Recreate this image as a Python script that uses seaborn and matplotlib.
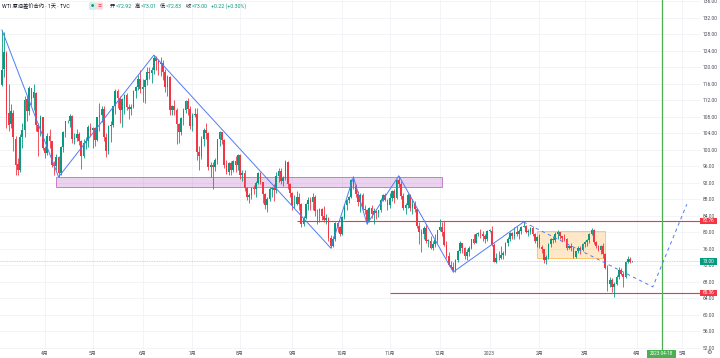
import numpy as np
import pandas as pd
import matplotlib
matplotlib.use("Agg")
import matplotlib.pyplot as plt
import matplotlib.transforms as mtransforms
from matplotlib.patches import Rectangle
import seaborn as sns

# WTI CFD daily candles, one per weekday from 2022-03-07 to 2023-03-30
# (one line per month)
opens = [
    115.7, 119.6, 123.5, 108.9, 106.3, 109.0, 102.5, 96.6, 95.1, 103.0, 104.7, 112.2, 109.4, 114.9, 112.4, 113.7, 106.0, 104.3, 107.8,
    100.3, 99.3, 103.3, 102.0, 96.2, 96.0, 98.3, 94.3, 100.6, 104.3, 106.9, 106.9, 108.2, 102.6, 102.8, 103.8, 102.1, 98.5, 101.7, 102.0, 105.4,
    104.7, 105.2, 102.4, 107.8, 108.3, 109.8, 103.1, 99.8, 105.7, 106.1, 110.5, 114.2, 112.4, 109.6, 112.2, 113.2, 110.3, 109.8, 110.3, 114.1, 115.1, 117.0,
    114.7, 115.3, 116.9, 118.9, 118.5, 119.4, 122.1, 121.5, 120.7, 120.9, 118.9, 115.3, 117.6, 109.6, 110.6, 109.5, 106.2, 104.3, 107.6, 109.6, 111.8, 109.8,
    105.8, 108.4, 108.6, 99.5, 98.5, 102.7, 104.8, 104.1, 95.8, 96.3, 95.8, 97.6, 102.6, 104.2, 102.3, 96.4, 94.7, 96.7, 95.0, 97.3, 96.4,
    98.6, 93.9, 94.4, 90.7, 88.5, 89.0, 90.8, 90.5, 91.9, 94.3, 92.1, 89.4, 86.5, 88.1, 90.5, 90.8, 90.2, 93.7, 94.9, 92.5, 93.1, 97.0, 91.6,
    89.6, 86.6, 86.9, 88.5, 86.9, 81.9, 83.5, 86.8, 87.8, 87.3, 88.5, 85.1, 85.1, 85.7, 83.9, 82.9, 83.5, 78.7, 76.7, 78.5, 82.2, 81.2,
    79.5, 83.6, 86.5, 87.8, 88.5, 92.6, 91.1, 89.4, 87.3, 89.1, 85.6, 85.5, 82.8, 86.0, 84.5, 85.1, 84.6, 85.3, 87.9, 89.1, 87.9,
    86.5, 88.4, 90.0, 88.2, 92.6, 91.8, 88.9, 85.8, 86.5, 89.0, 85.9, 86.9, 85.6, 81.6, 80.1, 79.7, 81.0, 77.9, 77.9, 76.3, 77.2, 78.2,
    80.6, 81.2, 80.0, 76.9, 74.3, 72.0, 71.5, 71.0, 73.2, 75.4, 77.3, 76.1, 74.3, 75.2, 76.2, 78.3, 77.5, 79.6, 79.8, 79.5, 79.0, 78.4,
    80.3, 80.4, 76.9, 72.8, 73.7, 73.8, 74.6, 75.1, 77.4, 78.4, 79.9, 79.2, 80.2, 79.5, 80.3, 81.3, 81.6, 80.1, 80.2, 81.0, 79.7, 77.9,
    78.9, 76.4, 75.9, 73.4, 74.1, 77.1, 78.5, 78.1, 79.7, 80.1, 79.1, 78.6, 78.5, 76.3, 76.6, 76.2, 74.0, 75.4, 76.3, 75.7,
    77.1, 77.7, 78.2, 79.7, 80.5, 77.6, 76.7, 75.7, 76.7, 74.8, 71.3, 67.6, 68.4, 66.7, 67.6, 69.3, 70.9, 70.0, 69.3, 72.8, 73.6, 72.92,
]
highs = [
    129.0, 128.5, 123.9, 116.0, 111.0, 109.7, 103.3, 98.0, 103.9, 106.4, 112.9, 113.0, 115.4, 115.0, 115.8, 114.0, 106.5, 108.4, 108.0,
    101.0, 104.1, 105.0, 102.2, 97.3, 98.9, 98.4, 101.0, 104.5, 107.0, 107.2, 108.6, 108.4, 104.0, 105.0, 104.3, 102.3, 102.5, 103.0, 106.0, 106.5,
    105.6, 105.5, 108.0, 111.4, 110.6, 110.5, 104.0, 106.0, 107.0, 110.7, 114.6, 114.8, 113.0, 112.5, 113.6, 113.8, 111.0, 111.0, 114.5, 115.4, 118.0, 119.4,
    117.1, 117.0, 120.0, 120.0, 120.0, 122.9, 122.6, 122.0, 122.5, 121.8, 119.5, 118.2, 117.9, 110.9, 112.0, 110.0, 106.5, 107.8, 110.0, 112.0, 112.5, 110.5,
    109.0, 110.0, 110.0, 101.0, 103.2, 105.3, 106.5, 104.2, 97.0, 97.0, 98.0, 102.7, 104.5, 104.3, 102.5, 97.5, 97.0, 97.3, 97.6, 98.5, 99.0,
    99.0, 95.0, 95.0, 91.0, 89.5, 91.0, 91.5, 92.5, 94.6, 94.5, 92.3, 89.6, 88.5, 90.9, 91.0, 91.8, 94.5, 95.5, 95.5, 93.7, 97.6, 97.2, 92.0,
    89.7, 89.0, 90.0, 89.5, 87.0, 84.0, 87.0, 88.5, 88.5, 89.5, 89.0, 85.7, 86.0, 86.0, 86.3, 84.5, 83.6, 79.3, 79.0, 82.5, 82.5, 81.5,
    84.0, 86.8, 88.0, 88.9, 93.0, 93.6, 91.7, 90.0, 89.5, 89.6, 86.5, 85.6, 86.1, 86.5, 85.9, 85.5, 85.5, 88.4, 89.4, 89.5, 88.0,
    89.5, 90.2, 90.5, 93.0, 93.7, 92.5, 89.5, 87.0, 89.5, 89.3, 88.0, 87.5, 85.7, 82.5, 80.8, 81.5, 82.0, 78.5, 79.0, 78.0, 79.5, 80.6,
    83.3, 82.5, 82.7, 77.8, 75.2, 73.0, 72.8, 73.5, 75.7, 77.8, 77.5, 76.5, 76.0, 76.8, 78.5, 79.7, 79.9, 80.0, 80.8, 80.3, 79.5, 80.6,
    80.7, 81.5, 77.4, 74.9, 75.5, 76.7, 75.4, 77.6, 78.8, 80.0, 80.0, 81.2, 81.5, 80.9, 81.6, 82.6, 81.8, 80.9, 81.2, 81.5, 79.9, 79.0,
    79.5, 77.0, 76.0, 74.5, 77.3, 78.6, 79.2, 80.0, 80.6, 80.2, 79.2, 79.5, 78.6, 77.0, 77.3, 76.5, 75.5, 76.7, 76.6, 77.3,
    78.0, 78.5, 79.8, 81.0, 80.9, 78.0, 77.0, 77.0, 77.3, 75.1, 72.0, 69.2, 69.0, 68.0, 69.7, 71.7, 71.3, 70.3, 73.0, 74.2, 74.0, 73.01,
]
lows = [
    115.5, 117.5, 105.3, 104.5, 105.3, 99.8, 93.8, 94.0, 94.5, 100.4, 103.0, 106.9, 108.5, 110.8, 109.5, 104.6, 98.4, 103.4, 99.9,
    97.9, 98.6, 100.4, 95.9, 93.9, 95.0, 93.4, 94.0, 99.5, 103.0, 106.5, 105.4, 101.6, 101.3, 102.0, 101.2, 95.3, 98.0, 100.2, 100.6, 103.4,
    100.3, 100.8, 102.2, 104.6, 106.6, 102.2, 98.2, 99.0, 101.9, 105.5, 108.6, 110.0, 106.5, 105.5, 108.6, 109.6, 107.5, 108.5, 110.0, 112.4, 114.5, 113.8,
    111.5, 111.3, 115.7, 117.0, 116.2, 118.3, 119.3, 118.0, 117.8, 116.9, 114.0, 113.0, 108.4, 108.5, 108.5, 101.5, 101.6, 103.5, 106.0, 109.0, 108.5, 105.1,
    104.6, 108.0, 97.4, 95.1, 97.8, 101.0, 102.6, 95.1, 93.3, 90.6, 94.9, 96.5, 101.0, 101.5, 95.5, 94.2, 94.0, 94.0, 94.5, 94.5, 95.2,
    92.9, 92.4, 90.0, 87.8, 87.0, 88.0, 89.2, 88.6, 91.6, 91.6, 87.0, 85.7, 85.0, 87.5, 88.6, 87.5, 89.5, 92.3, 91.6, 91.2, 92.7, 90.5, 88.6,
    85.5, 86.0, 86.5, 85.5, 81.2, 81.5, 83.2, 85.5, 85.4, 85.3, 84.0, 82.0, 82.5, 82.9, 82.6, 82.0, 78.0, 76.3, 76.5, 77.8, 80.0, 79.0,
    79.3, 83.3, 85.5, 87.2, 88.3, 90.5, 88.5, 86.4, 85.0, 85.4, 84.5, 81.9, 82.5, 83.4, 82.1, 83.2, 83.6, 85.0, 87.5, 87.5, 85.5,
    86.0, 87.5, 87.0, 88.0, 91.0, 88.0, 85.5, 84.5, 85.9, 85.2, 84.5, 85.0, 81.0, 77.2, 75.3, 78.5, 77.3, 76.5, 76.0, 75.8, 76.5, 77.5,
    80.4, 79.0, 76.6, 73.9, 71.8, 71.2, 70.3, 70.5, 72.8, 74.9, 75.1, 73.5, 73.2, 74.2, 76.0, 77.2, 77.3, 79.0, 78.6, 78.0, 77.5, 78.0,
    80.0, 76.6, 72.7, 72.5, 73.3, 73.5, 73.5, 74.6, 76.6, 77.8, 78.5, 78.4, 79.1, 78.5, 79.5, 81.2, 79.8, 79.0, 79.5, 79.0, 77.5, 76.5,
    76.2, 75.1, 72.6, 72.3, 73.6, 76.5, 77.5, 77.6, 78.5, 78.4, 77.8, 78.0, 75.7, 76.0, 75.5, 73.8, 73.8, 74.9, 74.8, 75.5,
    76.5, 76.6, 77.5, 79.4, 77.2, 76.2, 75.4, 74.7, 73.9, 71.2, 65.7, 66.8, 65.5, 64.3, 67.2, 68.8, 69.6, 66.8, 69.0, 72.5, 72.6, 72.83,
]
closes = [
    119.4, 123.7, 108.7, 106.0, 109.3, 103.0, 96.4, 95.0, 103.0, 104.7, 112.1, 109.3, 114.9, 112.3, 113.9, 105.9, 104.2, 107.8, 100.3,
    99.3, 103.3, 102.0, 96.2, 96.0, 98.3, 94.3, 100.6, 104.3, 106.9, 106.9, 108.2, 102.6, 102.8, 103.8, 102.1, 98.5, 101.7, 102.0, 105.4, 104.7,
    105.2, 102.4, 107.8, 108.3, 109.8, 103.1, 99.8, 105.7, 106.1, 110.5, 114.2, 112.4, 109.6, 112.2, 113.2, 110.3, 109.8, 110.3, 114.1, 115.1, 117.0, 114.7,
    115.3, 116.9, 118.9, 118.5, 119.4, 122.1, 121.5, 120.7, 120.9, 118.9, 115.3, 117.6, 109.6, 110.6, 109.5, 106.2, 104.3, 107.6, 109.6, 111.8, 109.8, 105.8,
    108.4, 108.6, 99.5, 98.5, 102.7, 104.8, 104.1, 95.8, 96.3, 95.8, 97.6, 102.6, 104.2, 102.3, 96.4, 94.7, 96.7, 95.0, 97.3, 96.4, 98.6,
    93.9, 94.4, 90.7, 88.5, 89.0, 90.8, 90.5, 91.9, 94.3, 92.1, 89.4, 86.5, 88.1, 90.5, 90.8, 90.2, 93.7, 94.9, 92.5, 93.1, 97.0, 91.6, 89.6,
    86.6, 86.9, 88.5, 86.9, 81.9, 83.5, 86.8, 87.8, 87.3, 88.5, 85.1, 85.1, 85.7, 83.9, 82.9, 83.5, 78.7, 76.7, 78.5, 82.2, 81.2, 79.5,
    83.6, 86.5, 87.8, 88.5, 92.6, 91.1, 89.4, 87.3, 89.1, 85.6, 85.5, 82.8, 86.0, 84.5, 85.1, 84.6, 85.3, 87.9, 89.1, 87.9, 86.5,
    88.4, 90.0, 88.2, 92.6, 91.8, 88.9, 85.8, 86.5, 89.0, 85.9, 86.9, 85.6, 81.6, 80.1, 79.7, 81.0, 77.9, 77.9, 76.3, 77.2, 78.2, 80.6,
    81.2, 80.0, 76.9, 74.3, 72.0, 71.5, 71.0, 73.2, 75.4, 77.3, 76.1, 74.3, 75.2, 76.2, 78.3, 77.5, 79.6, 79.8, 79.5, 79.0, 78.4, 80.3,
    80.4, 76.9, 72.8, 73.7, 73.8, 74.6, 75.1, 77.4, 78.4, 79.9, 79.2, 80.2, 79.5, 80.3, 81.3, 81.6, 80.1, 80.2, 81.0, 79.7, 77.9, 78.9,
    76.4, 75.9, 73.4, 74.1, 77.1, 78.5, 78.1, 79.7, 80.1, 79.1, 78.6, 78.5, 76.3, 76.6, 76.2, 74.0, 75.4, 76.3, 75.7, 77.1,
    77.7, 78.2, 79.7, 80.5, 77.6, 76.7, 75.7, 76.7, 74.8, 71.3, 67.6, 68.4, 66.7, 67.6, 69.3, 70.9, 70.0, 69.3, 72.8, 73.6, 72.78, 73.00,
]

first_day = "2022-03-07"
month_ticks = ["2022-04-01", "2022-05-02", "2022-06-01", "2022-07-01", "2022-08-01", "2022-09-01", "2022-10-03",
               "2022-11-01", "2022-12-01", "2023-01-02", "2023-02-01", "2023-03-01", "2023-04-03", "2023-05-01"]
month_labels = ["4月", "5月", "6月", "7月", "8月", "9月", "10月", "11月", "12月", "2023", "2月", "3月", "4月", "5月"]

# drawing objects
zz_dates = ["2022-03-07", "2022-04-11", "2022-06-08", "2022-09-26", "2022-10-10",
            "2022-10-18", "2022-11-07", "2022-12-09", "2023-01-23"]
zz_prices = [129.0, 93.4, 122.9, 76.2, 93.4, 82.0, 93.7, 70.4, 82.5]
proj_dates = ["2023-01-23", "2023-04-12", "2023-05-03"]
proj_prices = [82.5, 66.8, 86.8]
purple_dates = ["2022-04-08", "2022-12-02"]
purple_prices = [90.9, 93.3]
orange_dates = ["2023-01-31", "2023-03-14"]
orange_prices = [73.8, 80.3]
level_prices = [82.76, 65.36]
level_starts = ["2022-09-05", "2022-11-01"]
marker_day = "2023-04-18"
last_close = 73.00

UP, DOWN = "#089981", "#f23645"
BLUE = "#4f7cf6"

assert len(opens) == len(highs) == len(lows) == len(closes)

days = pd.bdate_range(first_day, "2023-06-30")


def pos(d):
    return days.get_loc(pd.Timestamp(d))


df = pd.DataFrame({"open": opens, "high": highs, "low": lows, "close": closes})
df["i"] = np.arange(len(df))
colors = np.where(df["close"] >= df["open"], UP, DOWN)

sns.set_style("white")
plt.rcParams["font.family"] = ["Roboto", "Noto Sans CJK SC", "DejaVu Sans"]

W, H = 720, 358
fig = plt.figure(figsize=(W / 100, H / 100), dpi=100)
ax = fig.add_axes([0, 8 / H, 700 / W, 350 / H])

x_right = (700 - 1.9) / 2.268
ax.set_xlim((0 - 1.9) / 2.268, x_right)
ax.set_ylim(136 - 349 / 4.131, 136 + 1 / 4.131)

# grid
ax.set_yticks(np.arange(52, 137, 4))
ax.set_yticklabels([f"{v:.2f}" for v in np.arange(52, 137, 4)])
ax.set_xticks([pos(d) for d in month_ticks])
ax.set_xticklabels(month_labels)
ax.grid(True, color="#f0f2f6", linewidth=0.6)
ax.set_axisbelow(True)
ax.yaxis.tick_right()
ax.tick_params(axis="y", length=0, pad=2.2, labelsize=3.5, labelcolor="#4a4d57")
ax.tick_params(axis="x", length=0, pad=1, labelsize=3.5, labelcolor="#4a4d57")
sns.despine(ax=ax, left=True, bottom=True, right=True, top=True)

# zones
for (d0, d1), (p0, p1), fc, ec in [(purple_dates, purple_prices, (0.61, 0.15, 0.69, 0.2), (0.61, 0.15, 0.69, 0.55)),
                                    (orange_dates, orange_prices, (1.0, 0.6, 0.0, 0.22), (1.0, 0.6, 0.0, 0.5))]:
    ax.add_patch(Rectangle((pos(d0), p0), pos(d1) - pos(d0), p1 - p0, facecolor=fc, edgecolor=ec, linewidth=0.7, zorder=1))

# candles
ax.vlines(df["i"], df["low"], df["high"], colors=colors, linewidth=0.6, zorder=3)
body = (df["close"] - df["open"]).abs().clip(lower=0.15)
ax.bar(df["i"], body, bottom=df[["open", "close"]].min(axis=1), width=0.74, color=colors, linewidth=0, zorder=3)

# levels, price line, date marker
for p, d in zip(level_prices, level_starts):
    ax.hlines(p, pos(d), x_right, color=DOWN, linewidth=0.8, zorder=2)
ax.axhline(last_close, color=UP, linewidth=0.6, alpha=0.4, linestyle=(0, (1, 1)), zorder=2)
ax.axvline(pos(marker_day), color="#4caf50", linewidth=0.9, zorder=2)

# zigzag + projection
sns.lineplot(x=[pos(d) for d in zz_dates], y=zz_prices, estimator=None, sort=False,
             color=BLUE, linewidth=0.7, ax=ax, zorder=4)
sns.lineplot(x=[pos(d) for d in proj_dates], y=proj_prices, estimator=None, sort=False,
             color=BLUE, linewidth=0.7, ax=ax, zorder=4)
ax.lines[-1].set_dashes([3.5, 3.5])

# price scale labels
ty = mtransforms.blended_transform_factory(ax.transAxes, ax.transData)
for p, c in [(level_prices[0], DOWN), (last_close, UP), (level_prices[1], DOWN)]:
    ax.add_patch(Rectangle((1.0, p - 0.8), 17 / 700, 1.6, transform=ty, clip_on=False,
                           facecolor=c, edgecolor="none", zorder=6))
    ax.text(1.0 + 8.5 / 700, p, f"{p:.2f}", transform=ty, ha="center", va="center",
            color="white", fontsize=3.4, zorder=7, clip_on=False)

# time scale date label
tx = mtransforms.blended_transform_factory(ax.transData, ax.transAxes)
m = pos(marker_day)
ax.add_patch(Rectangle((m - 14.5 / 2.268, -7.5 / 350), 29 / 2.268, 7.5 / 350, transform=tx, clip_on=False,
                       facecolor="#4caf50", edgecolor="none", zorder=6))
ax.text(m, -3.8 / 350, marker_day, transform=tx, ha="center", va="center", color="white",
        fontsize=3.3, zorder=7, clip_on=False)


# header
def fx(x):
    return x / W


hy = 1 - 6 / H
fig.text(fx(2), hy, "WTI 原油差价合约 · 1天 · TVC", fontsize=3.8, color="#131722", va="center")
fig.text(fx(92.5), hy, "●", fontsize=2.4, color=UP, va="center", ha="center",
         bbox=dict(boxstyle="round,pad=0.6", fc="#d3efe9", ec="none"))
fig.text(fx(99.5), hy, "≡", fontsize=3, color=DOWN, va="center", ha="center",
         bbox=dict(boxstyle="round,pad=0.4", fc="#fcdde0", ec="none"))
for x, lab, val in [(110, "开", "=72.92"), (135, "高", "=73.01"), (160, "低", "=72.83"), (186, "收", "=73.00")]:
    fig.text(fx(x), hy, lab, fontsize=3.8, color="#131722", va="center")
    fig.text(fx(x + 5.3), hy, val, fontsize=3.8, color=UP, va="center")
fig.text(fx(211), hy, "+0.22 (+0.30%)", fontsize=3.8, color=UP, va="center")

# settings gear on the time scale corner
fig.text(fx(709), 1 - 353 / H, "⚙", fontsize=4.5, color="#4a4d57", ha="center", va="center",
         family="DejaVu Sans")

fig.savefig("out.png", dpi=100)
